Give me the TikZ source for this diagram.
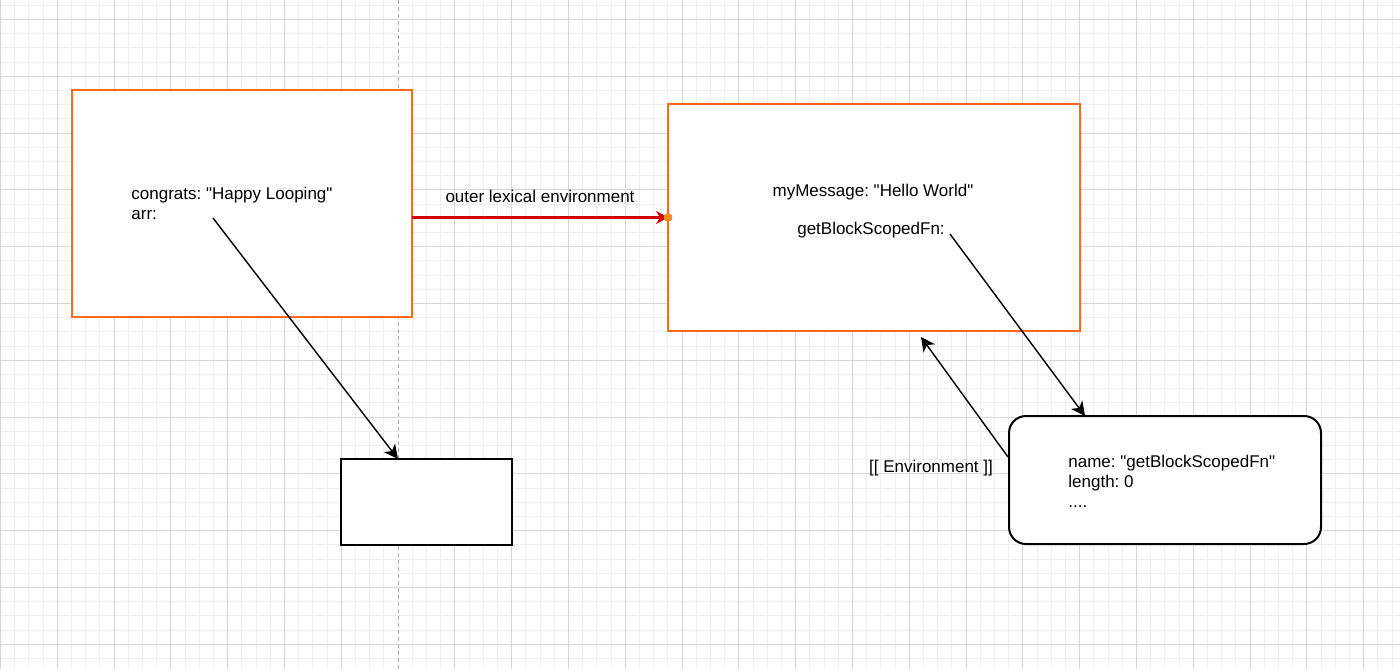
\documentclass[tikz,border=0pt]{standalone}
\usepackage{fontspec}
\setmainfont{Liberation Sans}
\usetikzlibrary{arrows.meta, positioning}
\definecolor{gridminor}{HTML}{EEEEEE}
\definecolor{gridmajor}{HTML}{D6D6D6}
\definecolor{pagebreak}{HTML}{ADADAD}
\definecolor{envorange}{HTML}{FF6A1A}
\definecolor{dotorange}{HTML}{FF8C1E}
\definecolor{linkred}{HTML}{D40000}
\frenchspacing
\tikzset{
    envbox/.style={draw=envorange, line width=0.7pt, fill=white, inner sep=0pt, outer sep=0pt},
    objbox/.style={draw=black, line width=0.7pt, fill=white, inner sep=0pt, outer sep=0pt},
    txt/.style={font=\fontsize{8.5}{10}\selectfont, inner sep=0pt},
    refarrow/.style={draw=black, line width=0.7pt, -{Stealth[length=7pt, width=7pt, inset=2pt]}},
    linkarrow/.style={draw=linkred, line width=1.1pt, -{Stealth[length=6pt, width=6.5pt, inset=2pt]}},
}

\begin{document}
\begin{tikzpicture}[x=0.5pt, y=-0.5pt]
    \useasboundingbox (0,0) rectangle (1400,669);
    \fill[white] (0,0) rectangle (1400,669);
    \foreach \i in {0,...,98}{
        \pgfmathsetmacro\gx{round(14.2*\i)+0.5}
        \draw[gridminor, line width=0.5pt] (\gx,0) -- (\gx,669);
    }
    \foreach \j in {0,...,47}{
        \pgfmathsetmacro\gy{round(4.8+14.2*\j)+0.5}
        \draw[gridminor, line width=0.5pt] (0,\gy) -- (1400,\gy);
    }
    \foreach \i in {0,4,...,96}{
        \pgfmathsetmacro\gx{round(14.2*\i)+0.5}
        \draw[gridmajor, line width=0.5pt] (\gx,0) -- (\gx,669);
    }
    \foreach \j in {1,5,...,45}{
        \pgfmathsetmacro\gy{round(4.8+14.2*\j)+0.5}
        \draw[gridmajor, line width=0.5pt] (0,\gy) -- (1400,\gy);
    }
    \draw[white, line width=0.5pt] (398.5,0) -- (398.5,669);
    \draw[pagebreak, line width=0.5pt, dash pattern=on 2pt off 1.5pt] (398.5,0) -- (398.5,669);

    \node[envbox, minimum width=170pt, minimum height=113.5pt] (blockenv) at (242,203.5) {};
    \node[envbox, minimum width=206pt, minimum height=113.5pt] (fnenv) at (874,217.5) {};
    \node[objbox, minimum width=85.5pt, minimum height=43pt] (arrobj) at (426.5,502) {};
    \node[objbox, line width=1pt, rounded corners=8.5pt, minimum width=156pt, minimum height=64pt] (fnobj) at (1165,480) {};

    \node[txt, anchor=base west] (congrats) at (131,199) {congrats: \textquotedbl Happy Looping\textquotedbl};
    \node[txt, anchor=base west] (arr) at (131,219) {arr:};
    \node[txt, anchor=base] (mymsg) at (873,196) {myMessage: \textquotedbl Hello World\textquotedbl};
    \node[txt, anchor=base] (getfn) at (871,234) {getBlockScopedFn:};
    \node[txt, anchor=base west] (fnname) at (1068,467) {name: \textquotedbl getBlockScopedFn\textquotedbl};
    \node[txt, anchor=base west] (fnlength) at (1068,487) {length: 0};
    \node[txt, anchor=base west] (fnmore) at (1068,507) {....};
    \node[txt, anchor=base] (outerlabel) at (540,202) {outer lexical environment};
    \node[txt, anchor=base] (envlabel) at (931,472) {[[ Environment ]]};

    \coordinate (arrptr) at (213,218);
    \coordinate (arrtip) at (398,459);
    \coordinate (fnptr) at (950,234);
    \coordinate (fntip) at (1085,416);
    \coordinate (envstart) at (1008,457);
    \coordinate (envtip) at (921,337);

    \draw[linkarrow] (blockenv.east |- fnenv.west) -- (fnenv.west);
    \fill[dotorange] (fnenv.west) circle[radius=2.2pt];
    \draw[refarrow] (arrptr) -- (arrtip);
    \draw[refarrow] (fnptr) -- (fntip);
    \draw[refarrow] (envstart) -- (envtip);
\end{tikzpicture}
\end{document}
